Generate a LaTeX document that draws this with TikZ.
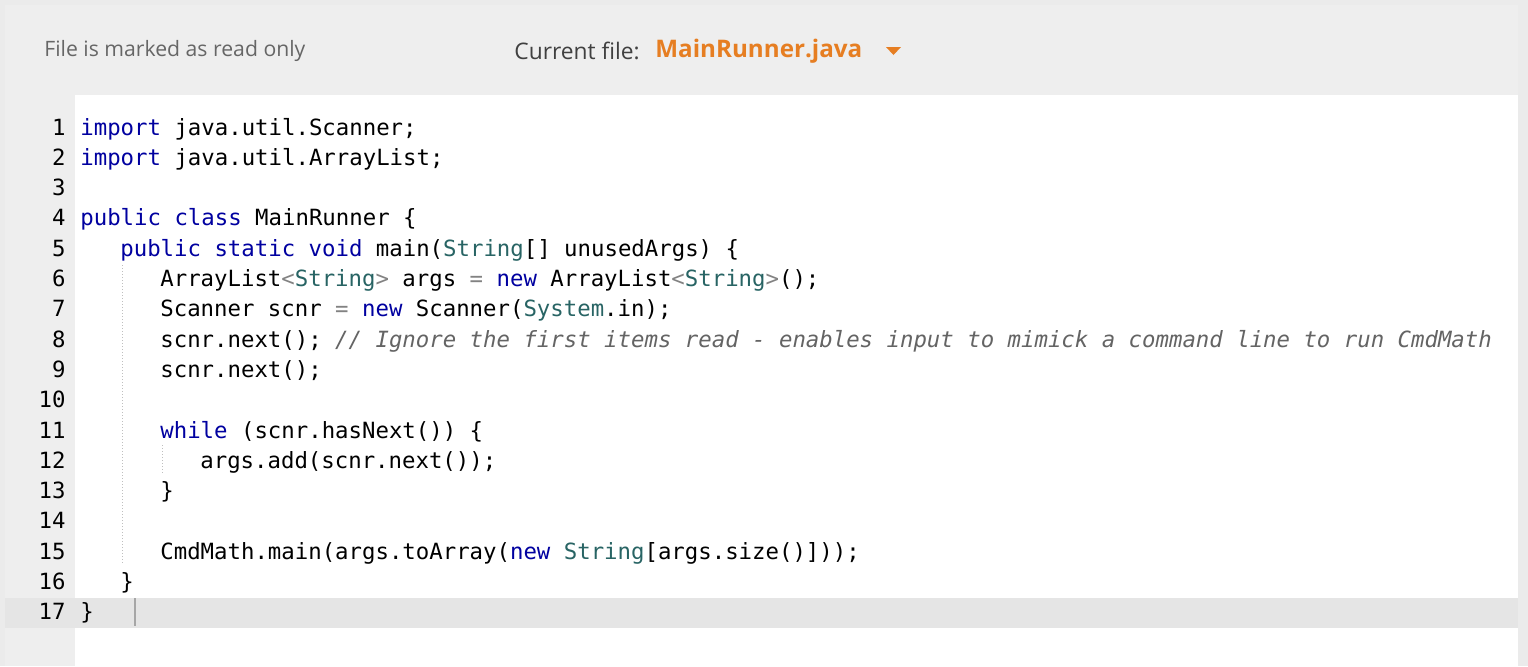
\documentclass[tikz,border=0pt]{standalone}
\usepackage{fontspec}
\setmainfont{Open Sans}
\setmonofont{DejaVu Sans Mono}
\usetikzlibrary{positioning}
\definecolor{kw}{RGB}{0,0,160}
\definecolor{ty}{RGB}{40,100,100}
\definecolor{op}{RGB}{130,130,130}
\definecolor{cm}{RGB}{100,100,100}
\definecolor{hd}{RGB}{238,238,238}
\definecolor{orng}{RGB}{230,126,34}
\newcommand{\kw}[1]{\textcolor{kw}{#1}}
\newcommand{\ty}[1]{\textcolor{ty}{#1}}
\newcommand{\op}[1]{\textcolor{op}{#1}}
\tikzset{
    codeline/.style={anchor=base west, inner sep=0pt, font=\ttfamily\fontsize{11.17}{13}\selectfont},
    lineno/.style={anchor=base east, inner sep=0pt, font=\ttfamily\fontsize{11.17}{13}\selectfont},
    guide/.style={draw=black!25, densely dotted, line width=0.5pt},
}
\begin{document}
\begin{tikzpicture}[x=0.5pt, y=-0.5pt]
	\useasboundingbox (0,0) rectangle (1528,666);
	\fill[black!8] (0,0) rectangle (1528,666);
	\fill[hd] (5,5) rectangle (1518,666);
	\fill[white] (75,95) rectangle (1518,666);
	\fill[black!10] (5,598) rectangle (1518,628);
	% header
	\node[anchor=west, inner sep=0pt, text=black!60, font=\fontsize{10.6}{12}\selectfont] (ro) at (44,51) {File is marked as read only};
	\node[anchor=west, inner sep=0pt, text=black!75, font=\fontsize{11.4}{13}\selectfont] (cur) at (514,51) {Current file:};
	\node[anchor=west, inner sep=0pt, text=orng, font=\bfseries\fontsize{12.1}{14}\selectfont] (fname) at (655,51) {MainRunner.java};
	\fill[orng] (886,47) -- (901,47) -- (893.5,55) -- cycle;
	% indent guides
	\draw[guide] (122,265) -- (122,565);
	\draw[guide] (162,445) -- (162,475);
	\draw[black!35, line width=0.6pt] (135,598) -- (135,626);
	% line numbers
	\foreach \n in {1,...,17}
		\node[lineno] (n\n) at (66,{135+30.3*(\n-1)}) {\n};
	% code
	\node[codeline] (c1) at (80,135) {\kw{import} java.util.Scanner;};
	\node[codeline] (c2) at (80,165.3) {\kw{import} java.util.ArrayList;};
	\node[codeline] (c4) at (80,225.9) {\kw{public} \kw{class} MainRunner \{};
	\node[codeline] (c5) at (120,256.2) {\kw{public} \kw{static} \kw{void} main(\ty{String}[] unusedArgs) \{};
	\node[codeline] (c6) at (160,286.5) {ArrayList\op{<}\ty{String}\op{>} args \op{=} \kw{new} ArrayList\op{<}\ty{String}\op{>}();};
	\node[codeline] (c7) at (160,316.8) {Scanner scnr \op{=} \kw{new} Scanner(\ty{System}.in);};
	\node[codeline] (c8) at (160,347.1) {scnr.next(); \textcolor{cm}{\itshape // Ignore the first items read - enables input to mimick a command line to run CmdMath}};
	\node[codeline] (c9) at (160,377.4) {scnr.next();};
	\node[codeline] (c11) at (160,438) {\kw{while} (scnr.hasNext()) \{};
	\node[codeline] (c12) at (200,468.3) {args.add(scnr.next());};
	\node[codeline] (c13) at (160,498.6) {\}};
	\node[codeline] (c15) at (160,559.2) {CmdMath.main(args.toArray(\kw{new} \ty{String}[args.size()]));};
	\node[codeline] (c16) at (120,589.5) {\}};
	\node[codeline] (c17) at (80,619.8) {\}};
\end{tikzpicture}
\end{document}
